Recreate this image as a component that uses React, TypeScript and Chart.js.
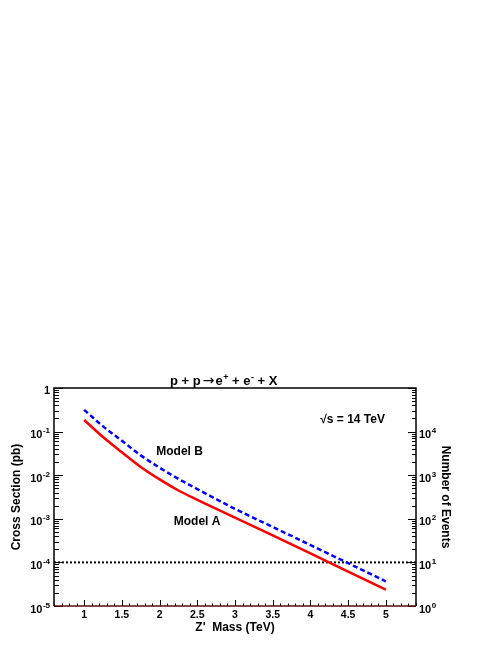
import React, { useEffect, useRef } from "react";
import { Chart, registerables } from "chart.js";

Chart.register(...registerables);

// ---- data ----
const massTeV = [1.0, 1.25, 1.5, 1.75, 2.0, 2.25, 2.5, 3.0, 3.5, 4.0, 4.5, 5.0];
const sigmaModelA = [0.185, 0.075, 0.0335, 0.0154, 0.008, 0.00446, 0.00272, 1.07e-3, 4.17e-4, 1.61e-4, 6.17e-5, 2.37e-5];
const sigmaModelB = [0.316, 0.132, 0.0617, 0.0285, 0.01486, 0.00824, 0.0048, 1.69e-3, 6.5e-4, 2.5e-4, 9.6e-5, 3.68e-5];
const thresholdMass = [0.6, 5.4];
const thresholdSigma = [1e-4, 1e-4];

const xTickValues = [1, 1.5, 2, 2.5, 3, 3.5, 4, 4.5, 5];
const leftTickValues = [1e-5, 1e-4, 1e-3, 1e-2, 1e-1, 1];
const rightTickValues = [1, 10, 100, 1000, 10000];

const xTitle = "Z'  Mass (TeV)";
const yTitle = "Cross Section (pb)";
const y2Title = "Number of Events";

const annotationLabels = ["Model B", "Model A", "\u221As = 14 TeV"];
const annotationMass = [2.265, 2.497, 4.13];
const annotationSigma = [0.0352, 8.67e-4, 0.192];
const annotationAlign: CanvasTextAlign[] = ["center", "center", "left"];

const FONT = "'Liberation Sans', Arial, Helvetica, sans-serif";
const BOLD12 = `bold 12px ${FONT}`;
const BOLD13 = `bold 13px ${FONT}`;
const BOLD11 = `bold 11px ${FONT}`;
const BOLD8 = `bold 8px ${FONT}`;
const BOLD9 = `bold 9px ${FONT}`;

// title pieces: text, font, vertical raise, extra gap after
const titlePieces: [string, string, number, number][] = [
  ["p + p", BOLD13, 0, 2],
  ["\u2192", "14px 'DejaVu Sans', sans-serif", 0, 1],
  ["e", BOLD13, 0, 0.5],
  ["+", BOLD9, 5, 0],
  [" + e", BOLD13, 0, 0.5],
  ["-", BOLD9, 5, 0],
  [" + X", BOLD13, 0, 0],
];

function drawPowLabel(ctx: CanvasRenderingContext2D, v: number, x: number, py: number, alignRight: boolean) {
  const e = Math.round(Math.log10(v));
  const base = e === 0 && alignRight ? "1" : "10";
  const exp = e === 0 && alignRight ? "" : String(e);
  ctx.font = BOLD11;
  const wb = ctx.measureText(base).width;
  ctx.font = BOLD8;
  const we = exp ? ctx.measureText(exp).width + 0.5 : 0;
  const start = alignRight ? x - wb - we : x;
  ctx.textAlign = "left";
  ctx.textBaseline = "alphabetic";
  ctx.font = BOLD11;
  ctx.fillText(base, start, py + (exp ? 6.5 : 5.5));
  if (exp) {
    ctx.font = BOLD8;
    ctx.fillText(exp, start + wb + 0.5, py + 1.5);
  }
}

const rootDecor = {
  id: "rootDecor",
  afterDatasetsDraw(chart: any) {
    const { ctx, chartArea: a, scales } = chart;
    const x = scales.x, y = scales.y, y2 = scales.y2;
    ctx.save();
    ctx.strokeStyle = "#000";
    ctx.lineWidth = 1;
    // left axis ticks (inside)
    for (let d = -5; d <= 0; d++) {
      for (let k = 1; k <= 9; k++) {
        const v = k * Math.pow(10, d);
        if (v > 1.0000001) break;
        const py = Math.round(y.getPixelForValue(v)) + 0.5;
        const len = k === 1 ? 9 : 5;
        ctx.beginPath();
        ctx.moveTo(a.left, py);
        ctx.lineTo(a.left + len, py);
        ctx.stroke();
      }
    }
    // right axis ticks (inside)
    for (let d = 0; d <= 5; d++) {
      for (let k = 1; k <= 9; k++) {
        const v = k * Math.pow(10, d);
        if (v > 100000.01) break;
        const py = Math.round(y2.getPixelForValue(v)) + 0.5;
        const len = k === 1 ? 8 : 4;
        ctx.beginPath();
        ctx.moveTo(a.right, py);
        ctx.lineTo(a.right - len, py);
        ctx.stroke();
      }
    }
    // bottom axis ticks (inside)
    for (let i = 6; i <= 54; i++) {
      const v = i / 10;
      const px = Math.round(x.getPixelForValue(v)) + 0.5;
      const major = i % 5 === 0;
      const len = major ? 6 : 2.5;
      ctx.beginPath();
      ctx.moveTo(px, a.bottom);
      ctx.lineTo(px, a.bottom - len);
      ctx.stroke();
    }
    // frame
    ctx.lineWidth = 1.5;
    ctx.beginPath();
    ctx.moveTo(a.left, a.bottom);
    ctx.lineTo(a.left, a.top);
    ctx.lineTo(a.right, a.top);
    ctx.lineTo(a.right, a.bottom);
    ctx.stroke();
    ctx.strokeStyle = "#5a0c0c";
    ctx.beginPath();
    ctx.moveTo(a.left, a.bottom);
    ctx.lineTo(a.right, a.bottom);
    ctx.stroke();
    ctx.restore();
  },
  afterDraw(chart: any) {
    const { ctx, chartArea: a, scales } = chart;
    ctx.save();
    ctx.fillStyle = "#000";
    // y tick labels with superscript exponents, placed by the scales
    scales.y.ticks.forEach((t: any) => {
      drawPowLabel(ctx, t.value, a.left - 4, scales.y.getPixelForValue(t.value), true);
    });
    scales.y2.ticks.forEach((t: any) => {
      drawPowLabel(ctx, t.value, a.right + 3, scales.y2.getPixelForValue(t.value), false);
    });
    // title
    let tx = 170;
    const ty = a.top - 3.5;
    ctx.textAlign = "left";
    ctx.textBaseline = "alphabetic";
    titlePieces.forEach(([t, f, raise, gap]) => {
      ctx.font = f;
      ctx.fillText(t, tx, ty - raise);
      tx += ctx.measureText(t).width + gap;
    });
    // annotations
    ctx.font = BOLD12;
    ctx.textBaseline = "middle";
    annotationLabels.forEach((t, i) => {
      ctx.textAlign = annotationAlign[i];
      ctx.fillText(
        t,
        scales.x.getPixelForValue(annotationMass[i]),
        scales.y.getPixelForValue(annotationSigma[i])
      );
    });
    ctx.restore();
  },
};

export default function App() {
  const ref = useRef<HTMLCanvasElement | null>(null);
  useEffect(() => {
    if (!ref.current) return;
    const titleFont = { family: FONT, weight: "bold" as const, size: 12 };
    const chart = new Chart(ref.current, {
      type: "line",
      data: {
        datasets: [
          {
            label: "Model A",
            data: massTeV.map((m, i) => ({ x: m, y: sigmaModelA[i] })),
            borderColor: "#ff0000",
            borderWidth: 2.5,
            pointRadius: 0,
            cubicInterpolationMode: "monotone",
            fill: false,
          },
          {
            label: "Model B",
            data: massTeV.map((m, i) => ({ x: m, y: sigmaModelB[i] })),
            borderColor: "#0000ff",
            borderWidth: 2.5,
            borderDash: [5, 3],
            pointRadius: 0,
            cubicInterpolationMode: "monotone",
            fill: false,
          },
          {
            label: "10 events",
            data: thresholdMass.map((m, i) => ({ x: m, y: thresholdSigma[i] })),
            borderColor: "#000000",
            borderWidth: 2,
            borderDash: [2, 2],
            pointRadius: 0,
            fill: false,
          },
        ],
      },
      options: {
        animation: false,
        responsive: false,
        layout: { padding: { top: 388, left: 0, right: 0, bottom: 0 } },
        plugins: { legend: { display: false }, title: { display: false }, tooltip: { enabled: false } },
        scales: {
          x: {
            type: "linear",
            min: 0.6,
            max: 5.4,
            afterBuildTicks: (s: any) => {
              s.ticks = xTickValues.map((v) => ({ value: v }));
            },
            afterFit: (s: any) => {
              s.height = 39;
            },
            ticks: {
              font: { family: FONT, weight: "bold", size: 10.5 },
              color: "#000",
              padding: 3,
              maxRotation: 0,
              autoSkip: false,
              callback: (v: any) => String(v),
            },
            grid: { display: false, drawTicks: false },
            border: { display: false },
            title: {
              display: true,
              text: xTitle,
              color: "#000",
              font: titleFont,
              padding: { top: 0, bottom: 10 },
            },
          },
          y: {
            type: "logarithmic",
            position: "left",
            min: 1e-5,
            max: 1,
            afterBuildTicks: (s: any) => {
              s.ticks = leftTickValues.map((v) => ({ value: v }));
            },
            afterFit: (s: any) => {
              s.width = 54;
            },
            ticks: { display: false },
            grid: { display: false, drawTicks: false },
            border: { display: false },
            title: {
              display: true,
              text: yTitle,
              color: "#000",
              font: titleFont,
              padding: { top: 9.5, bottom: 0 },
            },
          },
          y2: {
            type: "logarithmic",
            position: "right",
            min: 1,
            max: 1e5,
            afterBuildTicks: (s: any) => {
              s.ticks = rightTickValues.map((v) => ({ value: v }));
            },
            afterFit: (s: any) => {
              s.width = 82;
            },
            ticks: { display: false },
            grid: { display: false, drawTicks: false },
            border: { display: false },
            title: {
              display: true,
              text: y2Title,
              color: "#000",
              font: titleFont,
              padding: { top: 45, bottom: 0 },
            },
          },
        },
      },
      plugins: [rootDecor],
    } as any);
    return () => chart.destroy();
  }, []);
  return (
    <div style={{ position: "absolute", left: 0, top: 0, width: 498, height: 645, background: "#fff" }}>
      <canvas ref={ref} width={498} height={645} style={{ width: 498, height: 645, display: "block" }} />
    </div>
  );
}
